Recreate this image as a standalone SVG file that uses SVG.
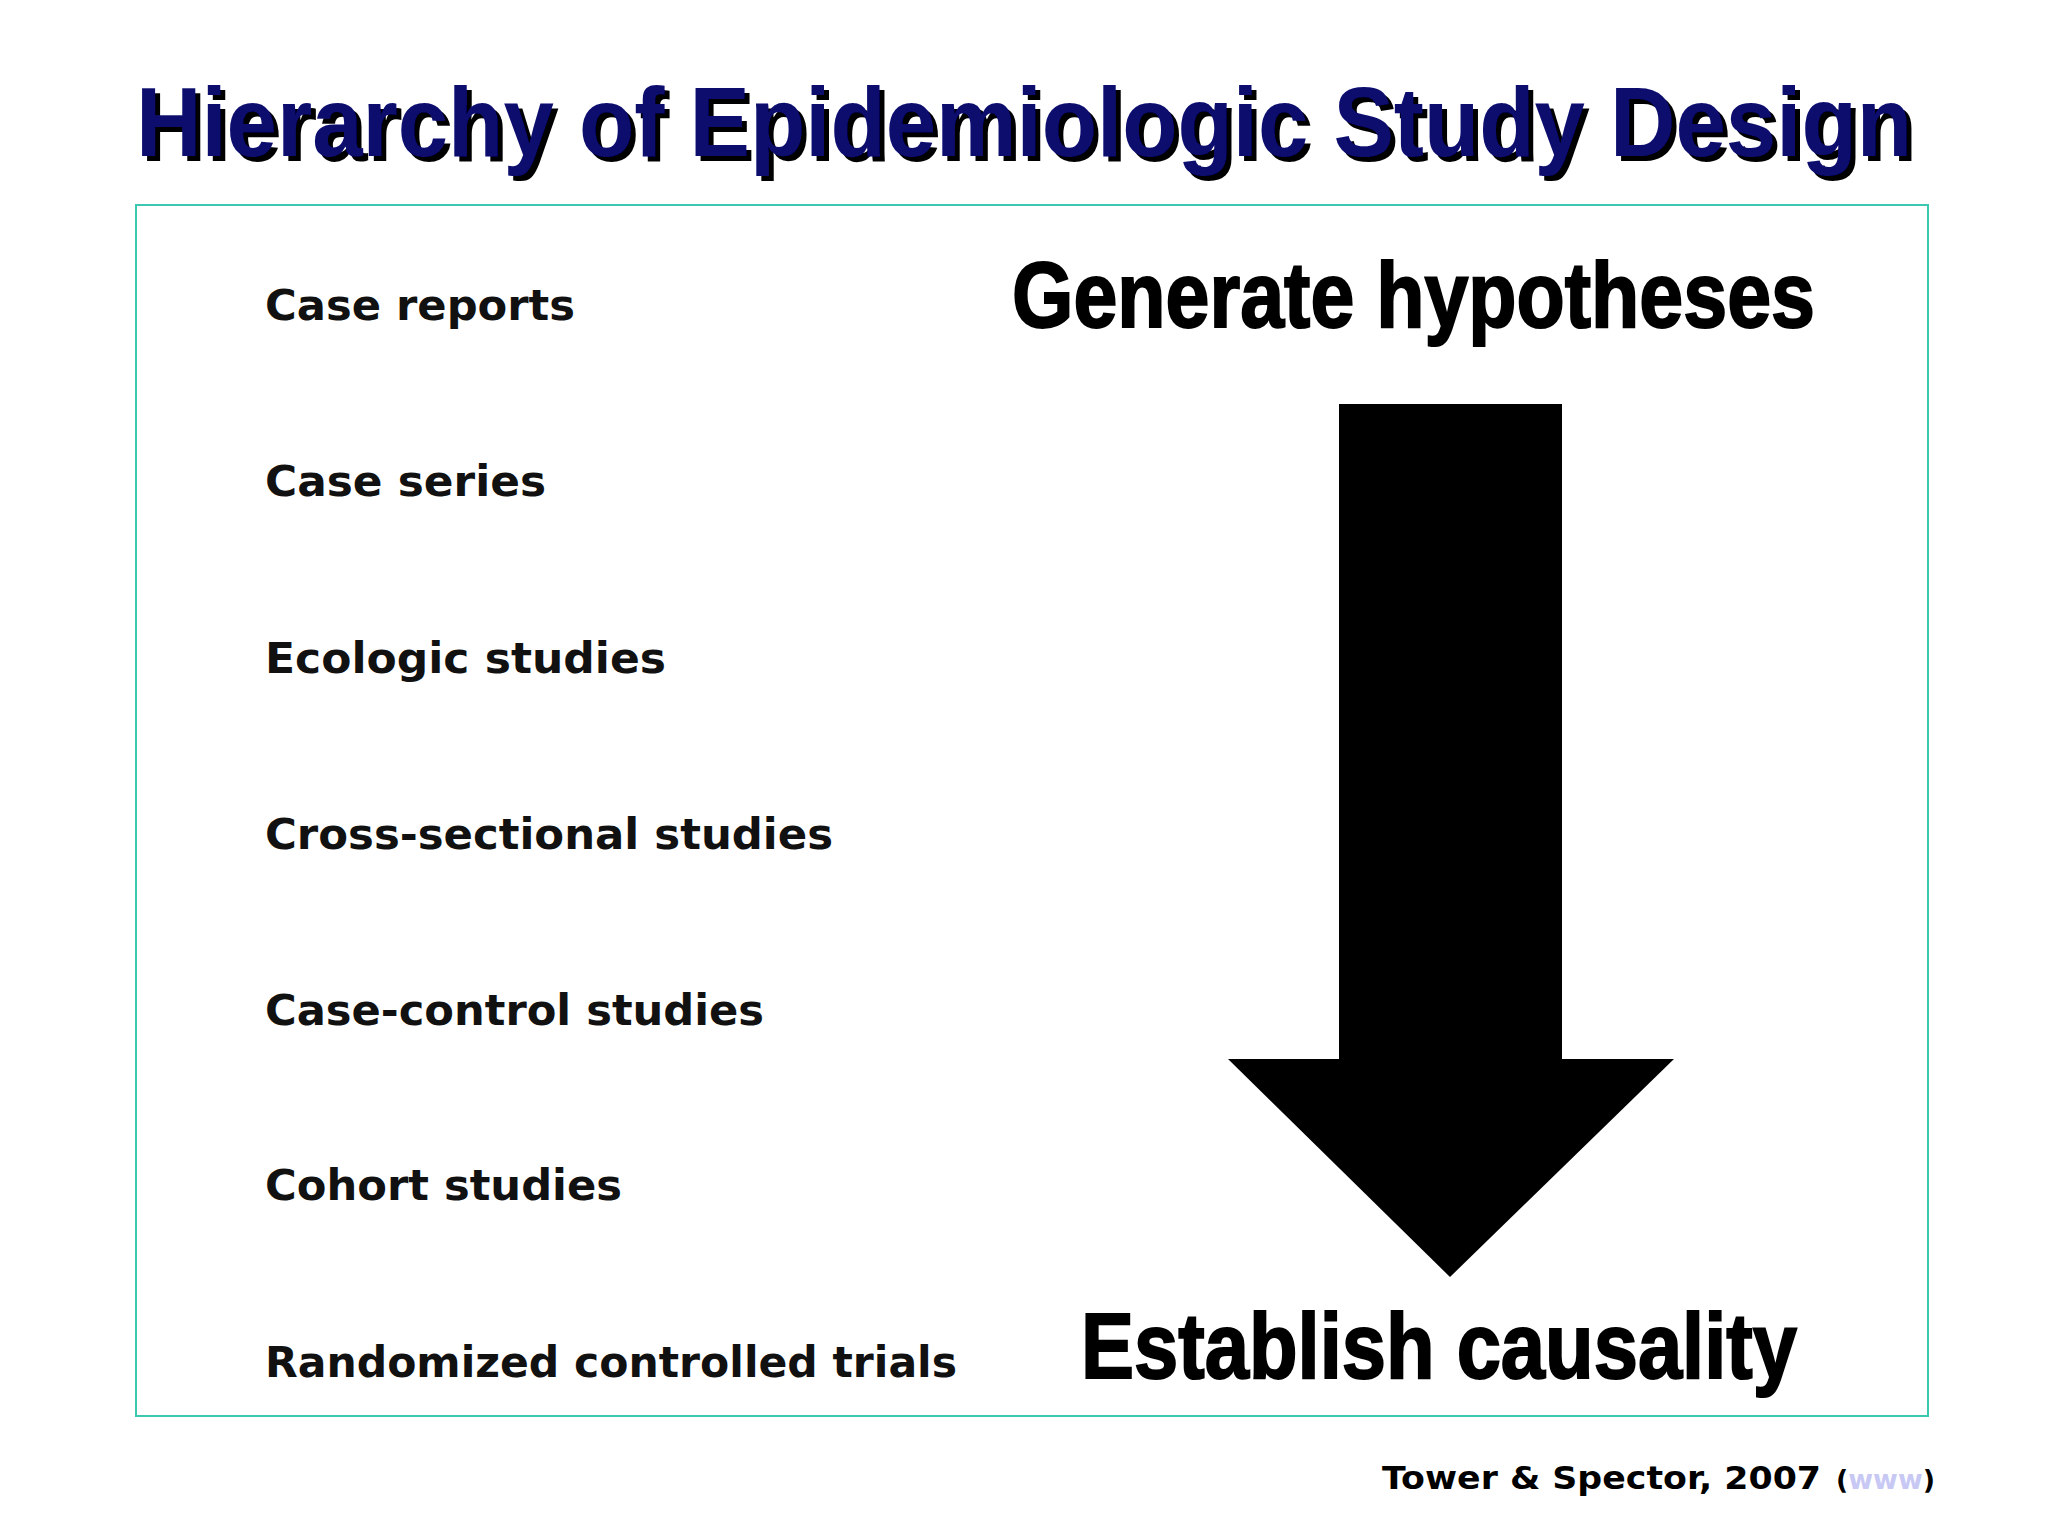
<svg xmlns="http://www.w3.org/2000/svg" width="2048" height="1536" viewBox="0 0 2048 1536">
<defs>
<filter id="shadow" x="-5%" y="-20%" width="110%" height="140%">
<feFlood flood-color="#000"/><feComposite in2="SourceAlpha" operator="in"/><feOffset dx="5" dy="5" result="s"/>
<feMerge><feMergeNode in="s"/><feMergeNode in="SourceGraphic"/></feMerge>
</filter>
</defs>
<style>
.item{font-family:"DejaVu Sans",Verdana,sans-serif;font-weight:bold;font-size:42px;fill:#111}
.big{font-family:"Liberation Sans",Arial,sans-serif;font-weight:bold;font-size:92px;fill:#000;stroke:#000;stroke-width:2}
</style>
<rect width="2048" height="1536" fill="#fff"/>
<g id="title" filter="url(#shadow)">
<text x="136" y="156" font-family="Liberation Sans,Arial,sans-serif" font-weight="bold" font-size="98" fill="#0a0a6e" textLength="1776" lengthAdjust="spacingAndGlyphs">Hierarchy of Epidemiologic Study Design</text>
</g>
<rect id="frame" x="136" y="205" width="1792" height="1211" fill="none" stroke="#3cc8b0" stroke-width="2"/>
<g id="items">
<text class="item" x="265" y="320" textLength="310" lengthAdjust="spacingAndGlyphs">Case reports</text>
<text class="item" x="265" y="496" textLength="281" lengthAdjust="spacingAndGlyphs">Case series</text>
<text class="item" x="265" y="673" textLength="401" lengthAdjust="spacingAndGlyphs">Ecologic studies</text>
<text class="item" x="265" y="849" textLength="568" lengthAdjust="spacingAndGlyphs">Cross-sectional studies</text>
<text class="item" x="265" y="1025" textLength="499" lengthAdjust="spacingAndGlyphs">Case-control studies</text>
<text class="item" x="265" y="1200" textLength="357" lengthAdjust="spacingAndGlyphs">Cohort studies</text>
<text class="item" x="265" y="1377" textLength="692" lengthAdjust="spacingAndGlyphs">Randomized controlled trials</text>
</g>
<g id="generate"><text class="big" x="1012" y="327" textLength="803" lengthAdjust="spacingAndGlyphs">Generate hypotheses</text></g>
<g id="connectors"><polygon points="1339,404 1562,404 1562,1059 1674,1059 1450,1277 1228,1059 1339,1059" fill="#000"/></g>
<g id="establish"><text class="big" x="1081" y="1378" textLength="716" lengthAdjust="spacingAndGlyphs">Establish causality</text></g>
<g id="footer">
<text x="1382" y="1489" font-family="DejaVu Sans,Verdana,sans-serif" font-weight="bold" font-size="32" fill="#000" textLength="439" lengthAdjust="spacingAndGlyphs">Tower &amp; Spector, 2007</text>
<text x="1836" y="1489" font-family="DejaVu Sans,Verdana,sans-serif" font-weight="bold" font-size="26" fill="#000" textLength="99" lengthAdjust="spacingAndGlyphs">(<tspan fill="#c8c8f5">www</tspan>)</text>
</g>
</svg>
